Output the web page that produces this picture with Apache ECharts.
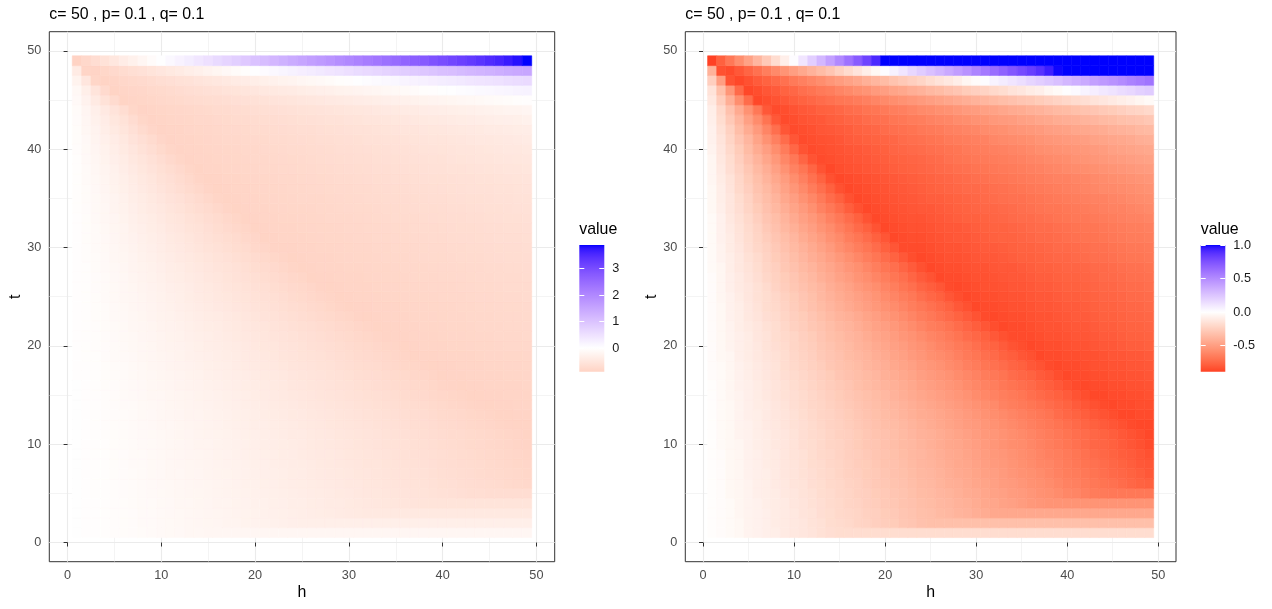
<!DOCTYPE html>
<html>
<head>
<meta charset="utf-8">
<script src="https://cdn.jsdelivr.net/npm/echarts@6/dist/echarts.min.js"></script>
<style>
html,body{margin:0;padding:0;background:#ffffff;}
#chart{width:1272px;height:609px;}
</style>
</head>
<body>
<div id="chart"></div>
<script>
// ---------------- data ----------------
const titleText = 'c= 50 , p= 0.1 , q= 0.1';
const legendTitle = 'value';
const xName = 'h';
const yName = 't';

const hValues = [1,2,3,4,5,6,7,8,9,10,11,12,13,14,15,16,17,18,19,20,21,22,23,24,25,26,27,28,29,30,31,32,33,34,35,36,37,38,39,40,41,42,43,44,45,46,47,48,49];
const tValues = [1,2,3,4,5,6,7,8,9,10,11,12,13,14,15,16,17,18,19,20,21,22,23,24,25,26,27,28,29,30,31,32,33,34,35,36,37,38,39,40,41,42,43,44,45,46,47,48,49];

const xTicks = [0,10,20,30,40,50];
const xMinorTicks = [5,15,25,35,45];
const yTicks = [0,10,20,30,40,50];
const yMinorTicks = [5,15,25,35,45];
const leftLegendTicks = [0,1,2,3];
const rightLegendTicks = [-0.5,0,0.5,1];
const rightUpperLimit = 1;

// values by row (t), each listing h = 1..49
const row_t01 = [-0.01,-0.02,-0.03,-0.04,-0.06,-0.07,-0.08,-0.09,-0.11,-0.12, -0.13,-0.14,-0.16,-0.17,-0.18,-0.18,-0.18,-0.18,-0.18,-0.18, -0.18,-0.18,-0.18,-0.18,-0.18,-0.18,-0.18,-0.18,-0.18,-0.18, -0.18,-0.18,-0.18,-0.18,-0.18,-0.18,-0.18,-0.18,-0.18,-0.18, -0.18,-0.18,-0.18,-0.18,-0.18,-0.18,-0.18,-0.18,-0.18];
const row_t02 = [-0.01,-0.02,-0.03,-0.04,-0.06,-0.07,-0.08,-0.10,-0.11,-0.12, -0.13,-0.15,-0.16,-0.18,-0.19,-0.20,-0.22,-0.23,-0.25,-0.26, -0.27,-0.29,-0.30,-0.32,-0.33,-0.33,-0.33,-0.33,-0.33,-0.33, -0.33,-0.33,-0.33,-0.33,-0.33,-0.33,-0.33,-0.33,-0.33,-0.33, -0.33,-0.33,-0.33,-0.33,-0.33,-0.33,-0.33,-0.33,-0.33];
const row_t03 = [-0.01,-0.02,-0.03,-0.05,-0.06,-0.07,-0.08,-0.10,-0.11,-0.12, -0.14,-0.15,-0.17,-0.18,-0.20,-0.21,-0.22,-0.24,-0.25,-0.27, -0.28,-0.30,-0.31,-0.33,-0.34,-0.36,-0.37,-0.39,-0.40,-0.42, -0.43,-0.45,-0.45,-0.45,-0.45,-0.45,-0.45,-0.45,-0.45,-0.45, -0.45,-0.45,-0.45,-0.45,-0.45,-0.45,-0.45,-0.45,-0.45];
const row_t04 = [-0.01,-0.02,-0.03,-0.05,-0.06,-0.07,-0.09,-0.10,-0.11,-0.13, -0.14,-0.16,-0.17,-0.19,-0.20,-0.22,-0.23,-0.25,-0.26,-0.28, -0.29,-0.31,-0.32,-0.34,-0.35,-0.37,-0.38,-0.40,-0.41,-0.43, -0.45,-0.46,-0.48,-0.49,-0.51,-0.53,-0.54,-0.55,-0.55,-0.55, -0.55,-0.55,-0.55,-0.55,-0.55,-0.55,-0.55,-0.55,-0.55];
const row_t05 = [-0.01,-0.02,-0.04,-0.05,-0.06,-0.08,-0.09,-0.10,-0.12,-0.13, -0.15,-0.16,-0.18,-0.19,-0.21,-0.22,-0.24,-0.25,-0.27,-0.28, -0.30,-0.31,-0.33,-0.35,-0.36,-0.38,-0.39,-0.41,-0.43,-0.44, -0.46,-0.48,-0.49,-0.51,-0.52,-0.54,-0.56,-0.57,-0.59,-0.61, -0.62,-0.64,-0.66,-0.67,-0.68,-0.68,-0.68,-0.68,-0.68];
const row_t06 = [-0.01,-0.02,-0.04,-0.05,-0.06,-0.08,-0.09,-0.11,-0.12,-0.14, -0.15,-0.17,-0.18,-0.20,-0.21,-0.23,-0.24,-0.26,-0.28,-0.29, -0.31,-0.32,-0.34,-0.36,-0.37,-0.39,-0.41,-0.42,-0.44,-0.46, -0.47,-0.49,-0.51,-0.52,-0.54,-0.56,-0.57,-0.59,-0.61,-0.63, -0.64,-0.66,-0.68,-0.70,-0.71,-0.73,-0.75,-0.77,-0.78];
const row_t07 = [-0.01,-0.02,-0.04,-0.05,-0.07,-0.08,-0.09,-0.11,-0.13,-0.14, -0.16,-0.17,-0.19,-0.20,-0.22,-0.24,-0.25,-0.27,-0.28,-0.30, -0.32,-0.33,-0.35,-0.37,-0.38,-0.40,-0.42,-0.44,-0.45,-0.47, -0.49,-0.50,-0.52,-0.54,-0.56,-0.57,-0.59,-0.61,-0.63,-0.65, -0.66,-0.68,-0.70,-0.72,-0.74,-0.75,-0.77,-0.79,-0.81];
const row_t08 = [-0.01,-0.02,-0.04,-0.05,-0.07,-0.08,-0.10,-0.11,-0.13,-0.14, -0.16,-0.18,-0.19,-0.21,-0.22,-0.24,-0.26,-0.27,-0.29,-0.31, -0.32,-0.34,-0.36,-0.38,-0.39,-0.41,-0.43,-0.45,-0.46,-0.48, -0.50,-0.52,-0.53,-0.55,-0.57,-0.59,-0.61,-0.62,-0.64,-0.66, -0.68,-0.70,-0.71,-0.73,-0.75,-0.77,-0.79,-0.81,-0.82];
const row_t09 = [-0.01,-0.02,-0.04,-0.05,-0.07,-0.08,-0.10,-0.11,-0.13,-0.15, -0.16,-0.18,-0.20,-0.21,-0.23,-0.25,-0.26,-0.28,-0.30,-0.31, -0.33,-0.35,-0.37,-0.38,-0.40,-0.42,-0.44,-0.45,-0.47,-0.49, -0.51,-0.53,-0.54,-0.56,-0.58,-0.60,-0.62,-0.64,-0.65,-0.67, -0.69,-0.71,-0.73,-0.75,-0.77,-0.79,-0.80,-0.82,-0.84];
const row_t10 = [-0.01,-0.03,-0.04,-0.05,-0.07,-0.09,-0.10,-0.12,-0.13,-0.15, -0.17,-0.18,-0.20,-0.22,-0.23,-0.25,-0.27,-0.29,-0.30,-0.32, -0.34,-0.36,-0.37,-0.39,-0.41,-0.43,-0.45,-0.46,-0.48,-0.50, -0.52,-0.54,-0.56,-0.58,-0.59,-0.61,-0.63,-0.65,-0.67,-0.69, -0.71,-0.73,-0.75,-0.76,-0.78,-0.80,-0.82,-0.84,-0.86];
const row_t11 = [-0.01,-0.03,-0.04,-0.06,-0.07,-0.09,-0.10,-0.12,-0.13,-0.15, -0.17,-0.19,-0.20,-0.22,-0.24,-0.25,-0.27,-0.29,-0.31,-0.32, -0.34,-0.36,-0.38,-0.40,-0.41,-0.43,-0.45,-0.47,-0.49,-0.51, -0.53,-0.54,-0.56,-0.58,-0.60,-0.62,-0.64,-0.66,-0.68,-0.70, -0.72,-0.73,-0.75,-0.77,-0.79,-0.81,-0.83,-0.85,-0.87];
const row_t12 = [-0.01,-0.03,-0.04,-0.06,-0.07,-0.09,-0.11,-0.12,-0.14,-0.16, -0.17,-0.19,-0.21,-0.23,-0.24,-0.26,-0.28,-0.30,-0.32,-0.34, -0.35,-0.37,-0.39,-0.41,-0.43,-0.45,-0.47,-0.49,-0.51,-0.52, -0.54,-0.56,-0.58,-0.60,-0.62,-0.64,-0.66,-0.68,-0.70,-0.72, -0.74,-0.76,-0.78,-0.80,-0.82,-0.84,-0.86,-0.87,-0.87];
const row_t13 = [-0.01,-0.03,-0.04,-0.06,-0.08,-0.09,-0.11,-0.13,-0.14,-0.16, -0.18,-0.20,-0.22,-0.23,-0.25,-0.27,-0.29,-0.31,-0.33,-0.35, -0.37,-0.39,-0.41,-0.43,-0.44,-0.46,-0.48,-0.50,-0.52,-0.54, -0.56,-0.58,-0.60,-0.62,-0.64,-0.66,-0.68,-0.70,-0.73,-0.75, -0.77,-0.79,-0.81,-0.83,-0.85,-0.87,-0.87,-0.86,-0.86];
const row_t14 = [-0.01,-0.03,-0.04,-0.06,-0.08,-0.10,-0.11,-0.13,-0.15,-0.17, -0.19,-0.21,-0.22,-0.24,-0.26,-0.28,-0.30,-0.32,-0.34,-0.36, -0.38,-0.40,-0.42,-0.44,-0.46,-0.48,-0.50,-0.52,-0.54,-0.56, -0.58,-0.60,-0.63,-0.65,-0.67,-0.69,-0.71,-0.73,-0.75,-0.77, -0.80,-0.82,-0.84,-0.86,-0.87,-0.86,-0.86,-0.85,-0.85];
const row_t15 = [-0.01,-0.03,-0.05,-0.06,-0.08,-0.10,-0.12,-0.14,-0.16,-0.17, -0.19,-0.21,-0.23,-0.25,-0.27,-0.29,-0.31,-0.33,-0.35,-0.37, -0.40,-0.42,-0.44,-0.46,-0.48,-0.50,-0.52,-0.54,-0.56,-0.59, -0.61,-0.63,-0.65,-0.67,-0.69,-0.72,-0.74,-0.76,-0.78,-0.80, -0.83,-0.85,-0.87,-0.87,-0.86,-0.86,-0.85,-0.85,-0.84];
const row_t16 = [-0.01,-0.03,-0.05,-0.07,-0.08,-0.10,-0.12,-0.14,-0.16,-0.18, -0.20,-0.22,-0.24,-0.26,-0.28,-0.30,-0.33,-0.35,-0.37,-0.39, -0.41,-0.43,-0.45,-0.48,-0.50,-0.52,-0.54,-0.56,-0.59,-0.61, -0.63,-0.65,-0.68,-0.70,-0.72,-0.74,-0.77,-0.79,-0.81,-0.84, -0.86,-0.87,-0.86,-0.86,-0.85,-0.85,-0.84,-0.84,-0.83];
const row_t17 = [-0.02,-0.03,-0.05,-0.07,-0.09,-0.11,-0.13,-0.15,-0.17,-0.19, -0.21,-0.23,-0.25,-0.27,-0.30,-0.32,-0.34,-0.36,-0.38,-0.41, -0.43,-0.45,-0.47,-0.50,-0.52,-0.54,-0.56,-0.59,-0.61,-0.63, -0.66,-0.68,-0.70,-0.73,-0.75,-0.77,-0.80,-0.82,-0.85,-0.87, -0.86,-0.86,-0.85,-0.85,-0.84,-0.84,-0.83,-0.83,-0.82];
const row_t18 = [-0.02,-0.03,-0.05,-0.07,-0.09,-0.11,-0.13,-0.15,-0.18,-0.20, -0.22,-0.24,-0.26,-0.29,-0.31,-0.33,-0.35,-0.38,-0.40,-0.42, -0.45,-0.47,-0.49,-0.52,-0.54,-0.56,-0.59,-0.61,-0.64,-0.66, -0.69,-0.71,-0.73,-0.76,-0.78,-0.81,-0.83,-0.86,-0.87,-0.86, -0.86,-0.85,-0.84,-0.84,-0.83,-0.83,-0.82,-0.82,-0.81];
const row_t19 = [-0.02,-0.04,-0.05,-0.08,-0.10,-0.12,-0.14,-0.16,-0.18,-0.21, -0.23,-0.25,-0.28,-0.30,-0.32,-0.35,-0.37,-0.39,-0.42,-0.44, -0.47,-0.49,-0.52,-0.54,-0.57,-0.59,-0.61,-0.64,-0.67,-0.69, -0.72,-0.74,-0.77,-0.79,-0.82,-0.84,-0.87,-0.86,-0.86,-0.85, -0.85,-0.84,-0.84,-0.83,-0.82,-0.82,-0.81,-0.81,-0.80];
const row_t20 = [-0.02,-0.04,-0.06,-0.08,-0.10,-0.12,-0.15,-0.17,-0.19,-0.22, -0.24,-0.26,-0.29,-0.31,-0.34,-0.36,-0.39,-0.41,-0.44,-0.46, -0.49,-0.51,-0.54,-0.56,-0.59,-0.62,-0.64,-0.67,-0.69,-0.72, -0.75,-0.77,-0.80,-0.83,-0.85,-0.87,-0.86,-0.85,-0.85,-0.84, -0.83,-0.83,-0.82,-0.81,-0.81,-0.80,-0.79,-0.79,-0.78];
const row_t21 = [-0.02,-0.04,-0.06,-0.08,-0.10,-0.13,-0.15,-0.18,-0.20,-0.22, -0.25,-0.27,-0.30,-0.33,-0.35,-0.38,-0.40,-0.43,-0.46,-0.48, -0.51,-0.54,-0.56,-0.59,-0.62,-0.64,-0.67,-0.70,-0.73,-0.75, -0.78,-0.81,-0.84,-0.86,-0.86,-0.86,-0.85,-0.84,-0.84,-0.83, -0.82,-0.82,-0.81,-0.80,-0.80,-0.79,-0.78,-0.78,-0.77];
const row_t22 = [-0.02,-0.04,-0.06,-0.09,-0.11,-0.13,-0.16,-0.18,-0.21,-0.24, -0.26,-0.29,-0.31,-0.34,-0.37,-0.39,-0.42,-0.45,-0.48,-0.50, -0.53,-0.56,-0.59,-0.62,-0.65,-0.67,-0.70,-0.73,-0.76,-0.79, -0.82,-0.85,-0.87,-0.86,-0.86,-0.85,-0.84,-0.83,-0.83,-0.82, -0.81,-0.81,-0.80,-0.79,-0.79,-0.78,-0.77,-0.77,-0.76];
const row_t23 = [-0.02,-0.04,-0.07,-0.09,-0.12,-0.14,-0.17,-0.19,-0.22,-0.25, -0.27,-0.30,-0.33,-0.36,-0.39,-0.41,-0.44,-0.47,-0.50,-0.53, -0.56,-0.59,-0.62,-0.65,-0.68,-0.71,-0.74,-0.77,-0.80,-0.83, -0.86,-0.87,-0.86,-0.85,-0.85,-0.84,-0.83,-0.83,-0.82,-0.81, -0.80,-0.80,-0.79,-0.78,-0.78,-0.77,-0.76,-0.76,-0.75];
const row_t24 = [-0.02,-0.04,-0.07,-0.09,-0.12,-0.15,-0.18,-0.20,-0.23,-0.26, -0.29,-0.32,-0.35,-0.38,-0.41,-0.44,-0.47,-0.50,-0.53,-0.56, -0.59,-0.62,-0.65,-0.68,-0.71,-0.74,-0.77,-0.81,-0.84,-0.87, -0.86,-0.86,-0.85,-0.84,-0.84,-0.83,-0.82,-0.82,-0.81,-0.80, -0.80,-0.79,-0.78,-0.77,-0.77,-0.76,-0.75,-0.75,-0.74];
const row_t25 = [-0.02,-0.05,-0.07,-0.10,-0.13,-0.16,-0.18,-0.21,-0.24,-0.27, -0.30,-0.33,-0.37,-0.40,-0.43,-0.46,-0.49,-0.52,-0.55,-0.59, -0.62,-0.65,-0.68,-0.72,-0.75,-0.78,-0.82,-0.85,-0.87,-0.86, -0.85,-0.85,-0.84,-0.83,-0.83,-0.82,-0.81,-0.81,-0.80,-0.79, -0.79,-0.78,-0.77,-0.76,-0.76,-0.75,-0.74,-0.74,-0.73];
const row_t26 = [-0.02,-0.05,-0.08,-0.11,-0.13,-0.16,-0.19,-0.23,-0.26,-0.29, -0.32,-0.35,-0.38,-0.42,-0.45,-0.48,-0.52,-0.55,-0.58,-0.62, -0.65,-0.69,-0.72,-0.76,-0.79,-0.82,-0.86,-0.87,-0.86,-0.85, -0.84,-0.84,-0.83,-0.82,-0.82,-0.81,-0.80,-0.80,-0.79,-0.78, -0.78,-0.77,-0.76,-0.75,-0.75,-0.74,-0.73,-0.73,-0.72];
const row_t27 = [-0.02,-0.05,-0.08,-0.11,-0.14,-0.17,-0.21,-0.24,-0.27,-0.30, -0.34,-0.37,-0.41,-0.44,-0.48,-0.51,-0.55,-0.58,-0.62,-0.65, -0.69,-0.72,-0.76,-0.80,-0.83,-0.87,-0.86,-0.86,-0.85,-0.84, -0.84,-0.83,-0.82,-0.81,-0.81,-0.80,-0.79,-0.79,-0.78,-0.77, -0.77,-0.76,-0.75,-0.74,-0.74,-0.73,-0.72,-0.72,-0.71];
const row_t28 = [-0.03,-0.05,-0.09,-0.12,-0.15,-0.18,-0.22,-0.25,-0.29,-0.32, -0.36,-0.39,-0.43,-0.46,-0.50,-0.54,-0.57,-0.61,-0.65,-0.69, -0.72,-0.76,-0.80,-0.84,-0.87,-0.86,-0.85,-0.85,-0.84,-0.83, -0.83,-0.82,-0.81,-0.81,-0.80,-0.79,-0.78,-0.78,-0.77,-0.76, -0.76,-0.75,-0.74,-0.74,-0.73,-0.72,-0.71,-0.71,-0.70];
const row_t29 = [-0.03,-0.06,-0.09,-0.12,-0.16,-0.19,-0.23,-0.27,-0.30,-0.34, -0.38,-0.42,-0.45,-0.49,-0.53,-0.57,-0.61,-0.65,-0.69,-0.73, -0.77,-0.81,-0.85,-0.87,-0.86,-0.85,-0.84,-0.84,-0.83,-0.82, -0.81,-0.81,-0.80,-0.79,-0.78,-0.78,-0.77,-0.76,-0.75,-0.75, -0.74,-0.73,-0.72,-0.72,-0.71,-0.70,-0.69,-0.69,-0.68];
const row_t30 = [-0.03,-0.06,-0.10,-0.13,-0.17,-0.21,-0.24,-0.28,-0.32,-0.36, -0.40,-0.44,-0.48,-0.52,-0.57,-0.61,-0.65,-0.69,-0.73,-0.78, -0.82,-0.86,-0.86,-0.86,-0.85,-0.84,-0.83,-0.83,-0.82,-0.81, -0.80,-0.80,-0.79,-0.78,-0.77,-0.77,-0.76,-0.75,-0.74,-0.74, -0.73,-0.72,-0.71,-0.71,-0.70,-0.69,-0.68,-0.68,-0.67];
const row_t31 = [-0.03,-0.07,-0.10,-0.14,-0.18,-0.22,-0.26,-0.30,-0.34,-0.38, -0.43,-0.47,-0.51,-0.56,-0.60,-0.65,-0.69,-0.73,-0.78,-0.82, -0.87,-0.86,-0.85,-0.85,-0.84,-0.83,-0.82,-0.81,-0.81,-0.80, -0.79,-0.78,-0.77,-0.77,-0.76,-0.75,-0.74,-0.74,-0.73,-0.72, -0.71,-0.70,-0.70,-0.69,-0.68,-0.67,-0.66,-0.66,-0.65];
const row_t32 = [-0.03,-0.07,-0.11,-0.15,-0.19,-0.23,-0.28,-0.32,-0.37,-0.41, -0.46,-0.50,-0.55,-0.59,-0.64,-0.69,-0.74,-0.78,-0.83,-0.87, -0.86,-0.85,-0.84,-0.84,-0.83,-0.82,-0.81,-0.81,-0.80,-0.79, -0.78,-0.77,-0.77,-0.76,-0.75,-0.74,-0.73,-0.73,-0.72,-0.71, -0.70,-0.69,-0.69,-0.68,-0.67,-0.66,-0.65,-0.65,-0.64];
const row_t33 = [-0.03,-0.07,-0.12,-0.16,-0.20,-0.25,-0.30,-0.34,-0.39,-0.44, -0.49,-0.53,-0.58,-0.63,-0.68,-0.73,-0.78,-0.83,-0.87,-0.86, -0.85,-0.84,-0.83,-0.83,-0.82,-0.81,-0.80,-0.79,-0.78,-0.78, -0.77,-0.76,-0.75,-0.74,-0.73,-0.73,-0.72,-0.71,-0.70,-0.69, -0.68,-0.68,-0.67,-0.66,-0.65,-0.64,-0.63,-0.63,-0.62];
const row_t34 = [-0.04,-0.08,-0.13,-0.17,-0.22,-0.27,-0.32,-0.37,-0.42,-0.47, -0.52,-0.57,-0.63,-0.68,-0.73,-0.79,-0.84,-0.87,-0.86,-0.85, -0.84,-0.83,-0.82,-0.81,-0.81,-0.80,-0.79,-0.78,-0.77,-0.76, -0.75,-0.75,-0.74,-0.73,-0.72,-0.71,-0.70,-0.69,-0.69,-0.68, -0.67,-0.66,-0.65,-0.64,-0.63,-0.63,-0.62,-0.61,-0.60];
const row_t35 = [-0.04,-0.09,-0.13,-0.18,-0.23,-0.29,-0.34,-0.39,-0.45,-0.50, -0.56,-0.61,-0.67,-0.73,-0.78,-0.84,-0.87,-0.86,-0.85,-0.84, -0.83,-0.82,-0.81,-0.80,-0.79,-0.79,-0.78,-0.77,-0.76,-0.75, -0.74,-0.73,-0.72,-0.71,-0.71,-0.70,-0.69,-0.68,-0.67,-0.66, -0.65,-0.64,-0.63,-0.63,-0.62,-0.61,-0.60,-0.59,-0.58];
const row_t36 = [-0.04,-0.09,-0.14,-0.20,-0.25,-0.31,-0.36,-0.42,-0.48,-0.54, -0.60,-0.66,-0.72,-0.78,-0.84,-0.87,-0.86,-0.85,-0.84,-0.83, -0.82,-0.81,-0.80,-0.79,-0.78,-0.77,-0.76,-0.75,-0.74,-0.74, -0.73,-0.72,-0.71,-0.70,-0.69,-0.68,-0.67,-0.66,-0.65,-0.64, -0.63,-0.62,-0.61,-0.60,-0.60,-0.59,-0.58,-0.57,-0.56];
const row_t37 = [-0.05,-0.10,-0.15,-0.21,-0.27,-0.33,-0.39,-0.45,-0.51,-0.58, -0.64,-0.71,-0.77,-0.84,-0.87,-0.86,-0.85,-0.84,-0.83,-0.82, -0.81,-0.80,-0.79,-0.78,-0.77,-0.76,-0.75,-0.74,-0.73,-0.72, -0.71,-0.70,-0.69,-0.68,-0.67,-0.66,-0.65,-0.64,-0.63,-0.63, -0.62,-0.61,-0.60,-0.59,-0.58,-0.57,-0.56,-0.55,-0.54];
const row_t38 = [-0.05,-0.11,-0.17,-0.23,-0.29,-0.36,-0.42,-0.49,-0.56,-0.63, -0.69,-0.76,-0.83,-0.87,-0.85,-0.84,-0.83,-0.82,-0.81,-0.80, -0.79,-0.78,-0.77,-0.76,-0.75,-0.74,-0.73,-0.72,-0.71,-0.70, -0.69,-0.68,-0.67,-0.66,-0.65,-0.64,-0.63,-0.62,-0.61,-0.60, -0.59,-0.58,-0.57,-0.56,-0.55,-0.54,-0.53,-0.52,-0.51];
const row_t39 = [-0.05,-0.12,-0.18,-0.25,-0.32,-0.39,-0.46,-0.53,-0.61,-0.68, -0.76,-0.83,-0.86,-0.85,-0.84,-0.83,-0.82,-0.81,-0.80,-0.79, -0.78,-0.77,-0.76,-0.75,-0.74,-0.73,-0.71,-0.70,-0.69,-0.68, -0.67,-0.66,-0.65,-0.64,-0.63,-0.62,-0.61,-0.60,-0.59,-0.58, -0.56,-0.55,-0.54,-0.53,-0.52,-0.51,-0.50,-0.49,-0.48];
const row_t40 = [-0.06,-0.13,-0.20,-0.27,-0.35,-0.43,-0.50,-0.58,-0.66,-0.75, -0.83,-0.86,-0.85,-0.84,-0.83,-0.82,-0.81,-0.80,-0.79,-0.78, -0.76,-0.75,-0.74,-0.73,-0.72,-0.71,-0.70,-0.69,-0.67,-0.66, -0.65,-0.64,-0.63,-0.62,-0.61,-0.60,-0.58,-0.57,-0.56,-0.55, -0.54,-0.53,-0.52,-0.51,-0.49,-0.48,-0.47,-0.46,-0.45];
const row_t41 = [-0.07,-0.14,-0.22,-0.30,-0.38,-0.47,-0.56,-0.64,-0.73,-0.82, -0.86,-0.85,-0.84,-0.83,-0.82,-0.80,-0.79,-0.78,-0.77,-0.76, -0.75,-0.73,-0.72,-0.71,-0.70,-0.69,-0.67,-0.66,-0.65,-0.64, -0.63,-0.61,-0.60,-0.59,-0.58,-0.57,-0.55,-0.54,-0.53,-0.52, -0.51,-0.50,-0.48,-0.47,-0.46,-0.45,-0.44,-0.42,-0.41];
const row_t42 = [-0.07,-0.16,-0.24,-0.34,-0.43,-0.52,-0.62,-0.72,-0.82,-0.86, -0.85,-0.84,-0.82,-0.81,-0.80,-0.79,-0.77,-0.76,-0.75,-0.73, -0.72,-0.71,-0.70,-0.68,-0.67,-0.66,-0.64,-0.63,-0.62,-0.61, -0.59,-0.58,-0.57,-0.55,-0.54,-0.53,-0.52,-0.50,-0.49,-0.48, -0.46,-0.45,-0.44,-0.43,-0.41,-0.40,-0.39,-0.37,-0.36];
const row_t43 = [-0.08,-0.18,-0.28,-0.38,-0.49,-0.59,-0.70,-0.81,-0.86,-0.85, -0.83,-0.82,-0.81,-0.79,-0.78,-0.76,-0.75,-0.73,-0.72,-0.71, -0.69,-0.68,-0.66,-0.65,-0.63,-0.62,-0.61,-0.59,-0.58,-0.56, -0.55,-0.53,-0.52,-0.51,-0.49,-0.48,-0.46,-0.45,-0.43,-0.42, -0.41,-0.39,-0.38,-0.36,-0.35,-0.33,-0.32,-0.31,-0.29];
const row_t44 = [-0.09,-0.20,-0.32,-0.44,-0.56,-0.68,-0.81,-0.86,-0.85,-0.83, -0.81,-0.80,-0.78,-0.77,-0.75,-0.73,-0.72,-0.70,-0.69,-0.67, -0.65,-0.64,-0.62,-0.60,-0.59,-0.57,-0.56,-0.54,-0.52,-0.51, -0.49,-0.48,-0.46,-0.44,-0.43,-0.41,-0.40,-0.38,-0.36,-0.35, -0.33,-0.31,-0.30,-0.28,-0.27,-0.25,-0.23,-0.22,-0.20];
const row_t45 = [-0.12,-0.26,-0.42,-0.58,-0.73,-0.87,-0.85,-0.83,-0.81,-0.79, -0.77,-0.75,-0.73,-0.71,-0.69,-0.68,-0.66,-0.64,-0.62,-0.60, -0.58,-0.56,-0.54,-0.52,-0.50,-0.48,-0.46,-0.44,-0.42,-0.40, -0.38,-0.36,-0.34,-0.32,-0.30,-0.29,-0.27,-0.25,-0.23,-0.21, -0.19,-0.17,-0.15,-0.13,-0.11,-0.09,-0.07,-0.05,-0.03];
const row_t46 = [-0.15,-0.33,-0.54,-0.74,-0.87,-0.85,-0.82,-0.80,-0.77,-0.75, -0.72,-0.70,-0.67,-0.65,-0.62,-0.60,-0.57,-0.55,-0.52,-0.50, -0.47,-0.45,-0.42,-0.40,-0.37,-0.35,-0.32,-0.30,-0.27,-0.25, -0.23,-0.20,-0.18,-0.15,-0.13,-0.10,-0.08,-0.05,-0.03,0.00, 0.02,0.05,0.07,0.10,0.12,0.15,0.17,0.20,0.22];
const row_t47 = [-0.25,-0.50,-0.83,-0.87,-0.84,-0.80,-0.77,-0.74,-0.71,-0.67, -0.64,-0.61,-0.58,-0.54,-0.51,-0.48,-0.45,-0.41,-0.38,-0.35, -0.31,-0.28,-0.25,-0.22,-0.18,-0.15,-0.12,-0.09,-0.05,-0.02, 0.01,0.05,0.08,0.11,0.14,0.18,0.21,0.24,0.27,0.31, 0.34,0.37,0.41,0.44,0.47,0.50,0.54,0.57,0.60];
const row_t48 = [-0.40,-0.84,-0.86,-0.81,-0.76,-0.71,-0.65,-0.60,-0.55,-0.50, -0.45,-0.40,-0.35,-0.30,-0.24,-0.19,-0.14,-0.09,-0.04,0.01, 0.06,0.11,0.17,0.22,0.27,0.32,0.37,0.42,0.47,0.53, 0.58,0.63,0.68,0.73,0.78,0.83,0.88,0.94,0.99,1.04, 1.09,1.14,1.19,1.24,1.29,1.35,1.40,1.45,1.50];
const row_t49 = [-0.89,-0.78,-0.68,-0.58,-0.48,-0.38,-0.28,-0.18,-0.08,0.01, 0.11,0.21,0.31,0.41,0.51,0.61,0.71,0.81,0.91,1.01, 1.11,1.21,1.31,1.41,1.51,1.61,1.70,1.80,1.90,2.00, 2.10,2.20,2.30,2.40,2.50,2.60,2.70,2.80,2.90,3.00, 3.10,3.19,3.29,3.39,3.49,3.59,3.69,3.79,3.89];

const valueRows = [row_t01,row_t02,row_t03,row_t04,row_t05,row_t06,row_t07,row_t08,row_t09,row_t10,
  row_t11,row_t12,row_t13,row_t14,row_t15,row_t16,row_t17,row_t18,row_t19,row_t20,
  row_t21,row_t22,row_t23,row_t24,row_t25,row_t26,row_t27,row_t28,row_t29,row_t30,
  row_t31,row_t32,row_t33,row_t34,row_t35,row_t36,row_t37,row_t38,row_t39,row_t40,
  row_t41,row_t42,row_t43,row_t44,row_t45,row_t46,row_t47,row_t48,row_t49];

// ---------------- derived data ----------------
const tiles = [];
tValues.forEach((t, i) => {
  hValues.forEach((h, j) => { tiles.push([h, t, valueRows[i][j]]); });
});
const allValues = tiles.map(d => d[2]);
const dataMin = Math.min.apply(null, allValues);
const dataMax = Math.max.apply(null, allValues);
// right panel: upper limit 1, out-of-range values squished to the limit
const tilesRight = tiles.map(d => [d[0], d[1], Math.min(d[2], rightUpperLimit)]);

// ggplot-style continuous expansion (5% of tile extent)
function expandedRange(vals) {
  const lo = Math.min.apply(null, vals) - 0.5, hi = Math.max.apply(null, vals) + 0.5;
  const pad = (hi - lo) * 0.05;
  return [lo - pad, hi + pad];
}
const xRange = expandedRange(hValues);
const yRange = expandedRange(tValues);

// ---------------- colour scale (red - white - blue, Lab interpolation, midpoint 0) ----------------
function srgbToLinear(c){ c /= 255; return c <= 0.04045 ? c / 12.92 : Math.pow((c + 0.055) / 1.055, 2.4); }
function linearToSrgb(c){ const v = c <= 0.0031308 ? 12.92 * c : 1.055 * Math.pow(c, 1 / 2.4) - 0.055; return Math.round(Math.max(0, Math.min(1, v)) * 255); }
function rgbToLab(rgb){
  const R = srgbToLinear(rgb[0]), G = srgbToLinear(rgb[1]), B = srgbToLinear(rgb[2]);
  const X = (0.4124564*R + 0.3575761*G + 0.1804375*B) / 0.95047;
  const Y = (0.2126729*R + 0.7151522*G + 0.0721750*B);
  const Z = (0.0193339*R + 0.1191920*G + 0.9503041*B) / 1.08883;
  const f = t => t > 0.008856 ? Math.cbrt(t) : (7.787 * t + 16 / 116);
  const fx = f(X), fy = f(Y), fz = f(Z);
  return [116 * fy - 16, 500 * (fx - fy), 200 * (fy - fz)];
}
function labToRgb(lab){
  const fy = (lab[0] + 16) / 116, fx = fy + lab[1] / 500, fz = fy - lab[2] / 200;
  const finv = t => (t * t * t > 0.008856) ? t * t * t : (t - 16 / 116) / 7.787;
  const X = finv(fx) * 0.95047, Y = finv(fy), Z = finv(fz) * 1.08883;
  const R =  3.2404542*X - 1.5371385*Y - 0.4985314*Z;
  const G = -0.9692660*X + 1.8760108*Y + 0.0415560*Z;
  const B =  0.0556434*X - 0.2040259*Y + 1.0572252*Z;
  return [linearToSrgb(R), linearToSrgb(G), linearToSrgb(B)];
}
const LAB_LOW = rgbToLab([255, 0, 0]), LAB_MID = rgbToLab([255, 255, 255]), LAB_HIGH = rgbToLab([0, 0, 255]);
function makePalette(lo, hi) {
  const M = Math.max(Math.abs(lo), Math.abs(hi));
  return v => {
    const p = v / (2 * M) + 0.5;
    let lab;
    if (p <= 0.5) { const f = p / 0.5; lab = LAB_LOW.map((c, i) => c + (LAB_MID[i] - c) * f); }
    else { const f = (p - 0.5) / 0.5; lab = LAB_MID.map((c, i) => c + (LAB_HIGH[i] - c) * f); }
    const rgb = labToRgb(lab);
    return 'rgb(' + rgb[0] + ',' + rgb[1] + ',' + rgb[2] + ')';
  };
}
function colourStops(lo, hi, n) {
  const pal = makePalette(lo, hi);
  const out = [];
  for (let i = 0; i < n; i++) out.push(pal(lo + (hi - lo) * i / (n - 1)));
  return out;
}
const leftStops = colourStops(dataMin, dataMax, 80);
const rightStops = colourStops(dataMin, rightUpperLimit, 80);

// ---------------- layout ----------------
const FONT = "'Liberation Sans', Arial, Helvetica, sans-serif";
const TITLE_SIZE = 15.9;
const TICK_SIZE = 12.7;
const panels = [
  { left: 49.3, top: 31.7, width: 505.4, height: 530 },
  { left: 685.3, top: 31.7, width: 490.7, height: 530 }
];
const legendBoxes = [
  { left: 579.3, top: 245, width: 25, height: 126.7 },
  { left: 1200.7, top: 245, width: 24.6, height: 126.7 }
];

const chart = echarts.init(document.getElementById('chart'), null, { renderer: 'canvas' });

function mainX(gridIndex) {
  return [{
    type: 'value', gridIndex, min: xRange[0], max: xRange[1], position: 'bottom',
    name: xName, nameLocation: 'middle', nameGap: 23, nameMoveOverlap: false,
    nameTextStyle: { color: '#000', fontSize: TITLE_SIZE, fontFamily: FONT },
    axisLine: { show: false },
    axisTick: { show: true, length: 4, lineStyle: { color: '#333333', width: 1 }, customValues: xTicks },
    axisLabel: { color: '#4D4D4D', fontSize: TICK_SIZE, fontFamily: FONT, margin: 7, customValues: xTicks },
    splitLine: { show: true, lineStyle: { color: '#EBEBEB', width: 1.1 } }
  }, {
    type: 'value', gridIndex, min: xRange[0], max: xRange[1], position: 'top',
    axisLine: { show: false },
    axisTick: { show: false, customValues: xMinorTicks },
    axisLabel: { show: false, customValues: xMinorTicks },
    splitLine: { show: true, lineStyle: { color: '#EBEBEB', width: 0.55 } }
  }];
}
function mainY(gridIndex) {
  return [{
    type: 'value', gridIndex, min: yRange[0], max: yRange[1], position: 'left',
    name: yName, nameLocation: 'middle', nameGap: 26, nameMoveOverlap: false,
    nameTextStyle: { color: '#000', fontSize: TITLE_SIZE, fontFamily: FONT },
    axisLine: { show: false },
    axisTick: { show: true, length: 4, lineStyle: { color: '#333333', width: 1 }, customValues: yTicks },
    axisLabel: { color: '#4D4D4D', fontSize: TICK_SIZE, fontFamily: FONT, margin: 8, customValues: yTicks },
    splitLine: { show: true, lineStyle: { color: '#EBEBEB', width: 1.1 } }
  }, {
    type: 'value', gridIndex, min: yRange[0], max: yRange[1], position: 'right',
    axisLine: { show: false },
    axisTick: { show: false, customValues: yMinorTicks },
    axisLabel: { show: false, customValues: yMinorTicks },
    splitLine: { show: true, lineStyle: { color: '#EBEBEB', width: 0.55 } }
  }];
}
function legendY(gridIndex, lo, hi, ticks, fmt) {
  return [{
    type: 'value', gridIndex, min: lo, max: hi, position: 'left', z: 10,
    axisLine: { show: false }, splitLine: { show: false },
    axisTick: { show: true, inside: true, length: 5, lineStyle: { color: '#FFFFFF', width: 1 }, customValues: ticks },
    axisLabel: { show: false, customValues: ticks }
  }, {
    type: 'value', gridIndex, min: lo, max: hi, position: 'right', z: 10,
    axisLine: { show: false }, splitLine: { show: false },
    axisTick: { show: true, inside: true, length: 5, lineStyle: { color: '#FFFFFF', width: 1 }, customValues: ticks },
    axisLabel: { show: true, inside: false, margin: 8, color: '#1A1A1A', fontSize: TICK_SIZE, fontFamily: FONT, customValues: ticks, formatter: fmt }
  }];
}
function legendX(gridIndex) {
  return { type: 'value', gridIndex, min: 0, max: 1, show: false };
}

function renderTile(params, api) {
  const h = api.value(0), t = api.value(1);
  const a = api.coord([h - 0.5, t + 0.5]);
  const b = api.coord([h + 0.5, t - 0.5]);
  const c = api.visual('color');
  return {
    type: 'rect',
    shape: { x: a[0], y: a[1], width: b[0] - a[0], height: b[1] - a[1] },
    style: { fill: c, stroke: c, lineWidth: 0.6 }
  };
}
function legendRenderer(stops) {
  return function (params, api) {
    const lo = api.value(1), hi = api.value(2);
    const a = api.coord([0, hi]);
    const b = api.coord([1, lo]);
    const cs = stops.map((c, i) => ({ offset: i / (stops.length - 1), color: c }));
    return {
      type: 'rect',
      shape: { x: a[0], y: a[1], width: b[0] - a[0], height: b[1] - a[1] },
      style: { fill: new echarts.graphic.LinearGradient(0, 1, 0, 0, cs) }
    };
  };
}

const gridCommon = { show: true, backgroundColor: '#FFFFFF', borderColor: '#333333', borderWidth: 1, containLabel: false, outerBoundsMode: 'none' };
const titleStyle = { color: '#000', fontSize: TITLE_SIZE, fontWeight: 'normal', fontFamily: FONT };

const option = {
  backgroundColor: '#FFFFFF',
  animation: false,
  textStyle: { fontFamily: FONT },
  title: [
    { text: titleText, left: panels[0].left, top: 7, padding: 0, textStyle: titleStyle },
    { text: titleText, left: panels[1].left, top: 7, padding: 0, textStyle: titleStyle },
    { text: legendTitle, left: legendBoxes[0].left, top: 222, padding: 0, textStyle: titleStyle },
    { text: legendTitle, left: legendBoxes[1].left, top: 222, padding: 0, textStyle: titleStyle }
  ],
  grid: [
    Object.assign({}, gridCommon, panels[0]),
    Object.assign({}, gridCommon, panels[1]),
    Object.assign({ show: false, containLabel: false, outerBoundsMode: 'none' }, legendBoxes[0]),
    Object.assign({ show: false, containLabel: false, outerBoundsMode: 'none' }, legendBoxes[1])
  ],
  xAxis: [].concat(mainX(0), mainX(1), [legendX(2), legendX(3)]),
  yAxis: [].concat(mainY(0), mainY(1),
    legendY(2, dataMin, dataMax, leftLegendTicks, v => String(Math.round(v))),
    legendY(3, dataMin, rightUpperLimit, rightLegendTicks, v => Number(v).toFixed(1))),
  visualMap: [
    { type: 'continuous', show: false, seriesIndex: 0, dimension: 2, min: dataMin, max: dataMax, inRange: { color: leftStops } },
    { type: 'continuous', show: false, seriesIndex: 1, dimension: 2, min: dataMin, max: rightUpperLimit, inRange: { color: rightStops } }
  ],
  series: [
    { type: 'custom', name: 'left', xAxisIndex: 0, yAxisIndex: 0, data: tiles, renderItem: renderTile, encode: { x: 0, y: 1 }, silent: true, z: 2 },
    { type: 'custom', name: 'right', xAxisIndex: 2, yAxisIndex: 2, data: tilesRight, renderItem: renderTile, encode: { x: 0, y: 1 }, silent: true, z: 2 },
    { type: 'custom', name: 'legendLeft', xAxisIndex: 4, yAxisIndex: 5, data: [[0, dataMin, dataMax]], renderItem: legendRenderer(leftStops), encode: { x: 0, y: [1, 2] }, silent: true, z: 2 },
    { type: 'custom', name: 'legendRight', xAxisIndex: 5, yAxisIndex: 7, data: [[0, dataMin, rightUpperLimit]], renderItem: legendRenderer(rightStops), encode: { x: 0, y: [1, 2] }, silent: true, z: 2 }
  ]
};
chart.setOption(option);
</script>
</body>
</html>
